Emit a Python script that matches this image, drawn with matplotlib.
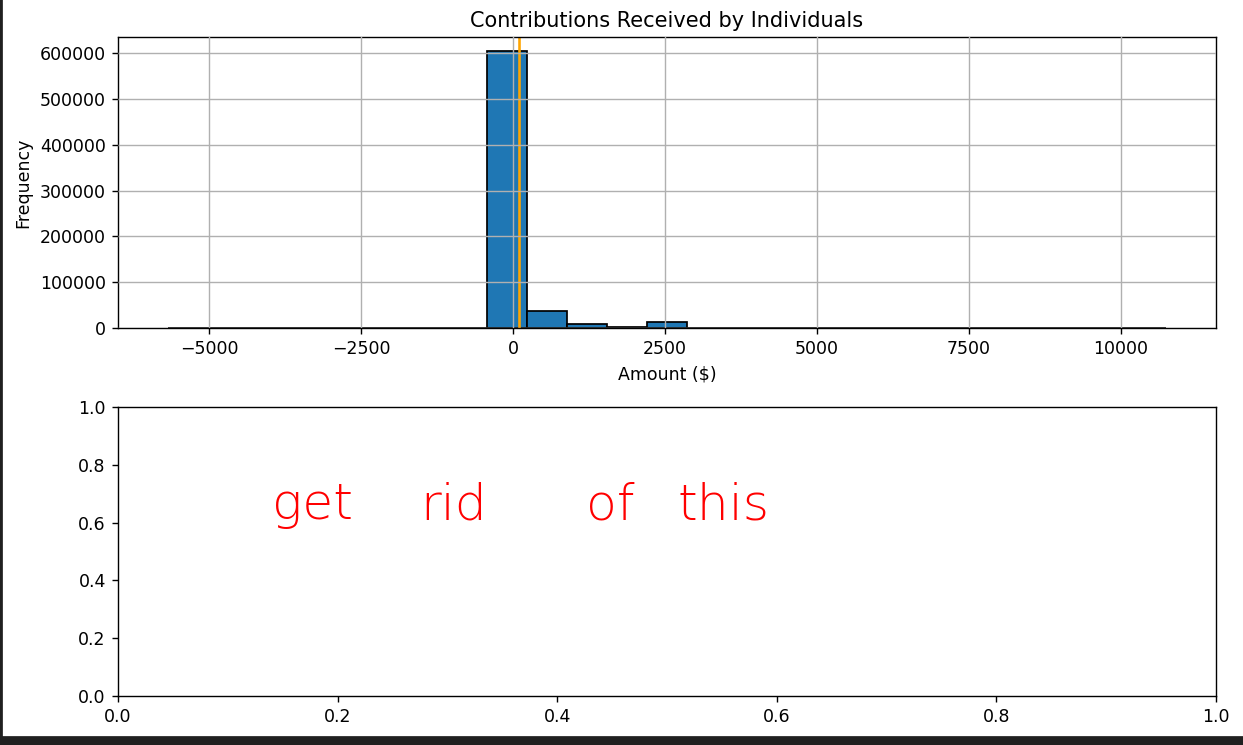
import numpy as np
import matplotlib
matplotlib.use('Agg')
import matplotlib.pyplot as plt
from matplotlib.patches import Rectangle

# histogram: 25 equal bins
bin_lo = -5676
bin_hi = 10742
counts = [0, 0, 0, 0, 0, 0, 0, 20, 605000, 37000, 8000, 2500, 13000,
          0, 0, 0, 0, 0, 0, 0, 0, 0, 0, 0, 0]
mean_amount = 104
note_words = ['get', 'rid', 'of', 'this']
note_x = [0.140, 0.275, 0.426, 0.510]

edges = np.linspace(bin_lo, bin_hi, len(counts) + 1)
centers = (edges[:-1] + edges[1:]) / 2

# screenshot was taken at ~1.25x scale
fig = plt.figure(figsize=(1243 / 125, 745 / 125), dpi=125)
ax1 = fig.add_axes([0.0949, 0.5597, 0.8834, 0.3906])
ax2 = fig.add_axes([0.0949, 0.0658, 0.8834, 0.3879])

ax1.hist(centers, bins=edges, weights=counts, edgecolor='black')
ax1.axvline(mean_amount, color='orange', linewidth=1.5)
ax1.grid(True)
ax1.set_axisbelow(False)
ax1.set_title('Contributions Received by Individuals')
ax1.set_xlabel('Amount ($)')
ax1.set_ylabel('Frequency')

for w, x in zip(note_words, note_x):
    ax2.text(x, 0.66, w, color='red', fontsize=29, fontweight='light',
             transform=ax2.transAxes, va='center')

# dark screenshot frame
fig.patches.append(Rectangle((0, 0), 1, 8 / 745, transform=fig.transFigure,
                             color='#202020', zorder=10))
fig.patches.append(Rectangle((0, 0), 2 / 1243, 1, transform=fig.transFigure,
                             color='#202020', zorder=10))

plt.savefig('out.png', dpi=125)
